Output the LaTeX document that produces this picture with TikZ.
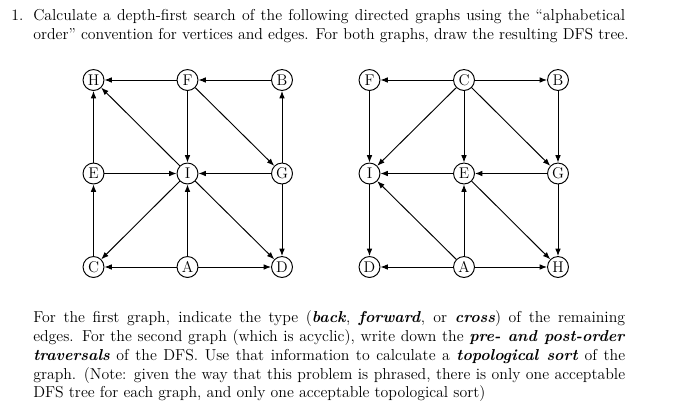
\documentclass[tikz,border=0pt]{standalone}
\usepackage{amssymb}
\usepackage{amsmath}
\usepackage{tikz}
\usetikzlibrary{arrows.meta}

\newcommand{\jline}[1]{\hbox to 438pt{\spaceskip=0pt\xspaceskip=0pt #1}}

\tikzset{
  vertex/.style={draw, circle, inner sep=0pt, minimum size=15.5pt, line width=0.7pt, font=\fontsize{11.5}{12}\selectfont},
  edge/.style={-{Latex[length=5.5pt,width=4.2pt]}, line width=0.7pt},
  para/.style={anchor=base west, inner sep=0pt, text width=438pt, align=justify, font=\fontsize{11.7}{13.9}\selectfont}
}

\begin{document}
\begin{tikzpicture}[x=0.74pt,y=0.74pt,yscale=-1]
\useasboundingbox (0,0) rectangle (682,411);

% Text Node
\node [anchor=base west, inner sep=0pt, font=\fontsize{11.7}{13.9}\selectfont] (num) at (11,20.7) {1.};
% Text Node
\node [para] (task) at (33,20.7) {\jline{Calculate a depth-first search of the following directed graphs using the ``alphabetical}
\hbox{order'' convention for vertices and edges. For both graphs, draw the resulting DFS tree.}};
% Text Node
\node [para] (notes) at (33,322.7) {\jline{For the first graph, indicate the type (\textbf{\textit{back}}, \textbf{\textit{forward}}, or \textbf{\textit{cross}}) of the remaining}
\jline{edges. For the second graph (which is acyclic), write down the \textbf{\textit{pre- and post-order}}}
\jline{\textbf{\textit{traversals}} of the DFS. Use that information to calculate a \textbf{\textit{topological sort}} of the}
\jline{graph. (Note: given the way that this problem is phrased, there is only one acceptable}
\hbox{DFS tree for each graph, and only one acceptable topological sort)}};

% First graph
\node [vertex] (H1) at (93.5,80) {H};
\node [vertex] (F1) at (187.5,80) {F};
\node [vertex] (B1) at (282,80) {B};
\node [vertex] (E1) at (93.5,173.5) {E};
\node [vertex] (I1) at (187.5,173.5) {I};
\node [vertex] (G1) at (282,173.5) {G};
\node [vertex] (C1) at (93.5,267) {C};
\node [vertex] (A1) at (187.5,267) {A};
\node [vertex] (D1) at (282,267) {D};

% Connection
\draw [edge] (F1) -- (H1);
\draw [edge] (B1) -- (F1);
\draw [edge] (F1) -- (I1);
\draw [edge] (F1) -- (G1);
\draw [edge] (I1) -- (H1);
\draw [edge] (E1) -- (H1);
\draw [edge] (E1) -- (I1);
\draw [edge] (G1) -- (I1);
\draw [edge] (G1) -- (B1);
\draw [edge] (G1) -- (D1);
\draw [edge] (I1) -- (C1);
\draw [edge] (I1) -- (D1);
\draw [edge] (A1) -- (I1);
\draw [edge] (C1) -- (E1);
\draw [edge] (A1) -- (C1);
\draw [edge] (A1) -- (D1);

% Second graph
\node [vertex] (F2) at (369.5,80) {F};
\node [vertex] (C2) at (464,80) {C};
\node [vertex] (B2) at (558,80) {B};
\node [vertex] (I2) at (369.5,173.5) {I};
\node [vertex] (E2) at (464,173.5) {E};
\node [vertex] (G2) at (558,173.5) {G};
\node [vertex] (D2) at (369.5,267) {D};
\node [vertex] (A2) at (464,267) {A};
\node [vertex] (H2) at (558,267) {H};

% Connection
\draw [edge] (C2) -- (F2);
\draw [edge] (C2) -- (B2);
\draw [edge] (F2) -- (I2);
\draw [edge] (C2) -- (I2);
\draw [edge] (C2) -- (E2);
\draw [edge] (C2) -- (G2);
\draw [edge] (B2) -- (G2);
\draw [edge] (E2) -- (I2);
\draw [edge] (G2) -- (E2);
\draw [edge] (G2) -- (H2);
\draw [edge] (I2) -- (D2);
\draw [edge] (A2) -- (I2);
\draw [edge] (A2) -- (E2);
\draw [edge] (E2) -- (H2);
\draw [edge] (A2) -- (D2);
\draw [edge] (A2) -- (H2);

\end{tikzpicture}
\end{document}
